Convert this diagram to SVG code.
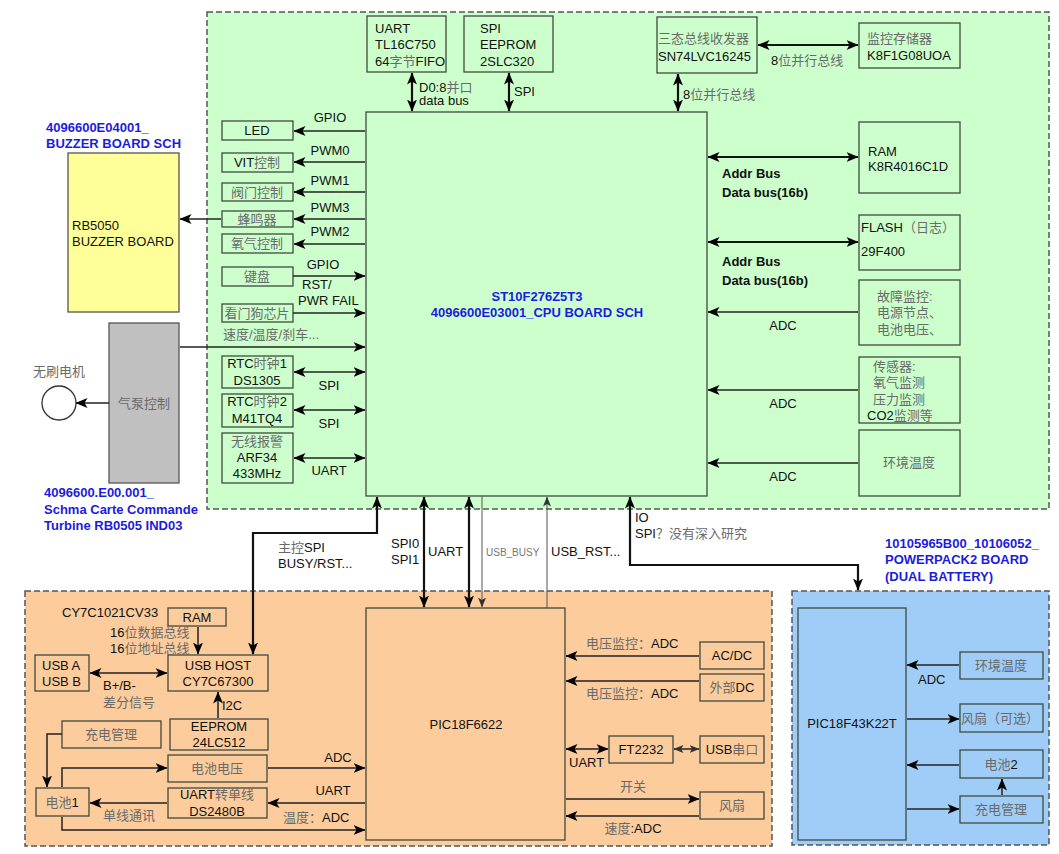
<svg xmlns="http://www.w3.org/2000/svg" width="1059" height="854" viewBox="0 0 1059 854">
<style>
text{font-family:"Liberation Sans","Noto Sans CJK SC",sans-serif;font-size:13px;fill:#111}
.c{fill:#6a6a6a}
.m{text-anchor:middle}
.b{font-weight:bold}
.bl{font-weight:bold;fill:#1c1ce0}
.s{font-size:10px;fill:#777}
.panel{stroke:#555;stroke-width:1.5;stroke-dasharray:6 3}
.bx{stroke:#3f4a3f;stroke-width:1.3}
.g{fill:#ccffcc}
.o{fill:#fccc9c}
.u{fill:#9fcdf7}
.w{fill:none;stroke:#222;stroke-width:1.5}
.k{fill:none;stroke:#111;stroke-width:2.2}
.n{fill:none;stroke:#555;stroke-width:1}
</style>
<defs>
<marker id="a" viewBox="0 0 12 10" refX="11.5" refY="5" markerWidth="12" markerHeight="10" markerUnits="userSpaceOnUse" orient="auto-start-reverse"><path d="M0,0 L12,5 L0,10 L3,5 z" fill="#000"/></marker>
<marker id="t" viewBox="0 0 10 8" refX="9.5" refY="4" markerWidth="10" markerHeight="8" markerUnits="userSpaceOnUse" orient="auto-start-reverse"><path d="M0,0 L10,4 L0,8 L2.5,4 z" fill="#333"/></marker>
</defs>

<g id="panel-cpu"><rect class="panel g" x="207" y="12" width="842" height="497"/></g>
<g id="panel-pic"><rect class="panel o" x="25" y="591" width="747" height="255"/></g>
<g id="panel-power"><rect class="panel u" x="792" y="591" width="257" height="254"/>
<text class="bl" x="885" y="548">10105965B00_10106052_</text>
<text class="bl" x="885" y="564">POWERPACK2 BOARD</text>
<text class="bl" x="885" y="581">(DUAL BATTERY)</text></g>

<g id="cpu"><rect class="bx g" x="366" y="112" width="341" height="384"/>
<text class="bl m" x="537" y="301">ST10F276Z5T3</text>
<text class="bl m" x="537" y="317">4096600E03001_CPU BOARD SCH</text></g>

<g id="uart"><rect class="bx g" x="367" y="16" width="79" height="56"/>
<text x="375" y="33">UART</text><text x="375" y="49">TL16C750</text><text x="375" y="66">64<tspan class="c">字节</tspan>FIFO</text></g>
<g id="spi-eeprom"><rect class="bx g" x="464" y="16" width="89" height="56"/>
<text x="480" y="33">SPI</text><text x="480" y="49">EEPROM</text><text x="480" y="66">2SLC320</text></g>
<g id="transceiver"><rect class="bx g" x="657" y="17" width="100" height="56"/>
<text class="c" x="658" y="43">三态总线收发器</text><text x="658" y="61">SN74LVC16245</text></g>
<g id="monitor-mem"><rect class="bx g" x="859" y="23" width="101" height="45"/>
<text class="c" x="867" y="43">监控存储器</text><text x="867" y="60">K8F1G08UOA</text></g>
<g id="ram"><rect class="bx g" x="859" y="122" width="101" height="71"/>
<text x="868" y="156">RAM</text><text x="868" y="171">K8R4016C1D</text></g>
<g id="flash"><rect class="bx g" x="859" y="215" width="101" height="55"/>
<text x="861" y="232">FLASH<tspan class="c">（日志）</tspan></text><text x="861" y="256">29F400</text></g>
<g id="fault"><rect class="bx g" x="859" y="280" width="101" height="65"/>
<text class="c" x="877" y="301">故障监控:</text><text class="c" x="877" y="317">电源节点、</text><text class="c" x="877" y="334">电池电压、</text></g>
<g id="sensor"><rect class="bx g" x="859" y="357" width="101" height="66"/>
<text class="c" x="873" y="371">传感器:</text><text class="c" x="873" y="387">氧气监测</text><text class="c" x="873" y="404">压力监测</text><text x="867" y="420">CO2<tspan class="c">监测等</tspan></text></g>
<g id="env-temp"><rect class="bx g" x="859" y="430" width="101" height="66"/>
<text class="c m" x="909" y="467">环境温度</text></g>

<g id="led"><rect class="bx g" x="222" y="121" width="71" height="19"/><text class="m" x="257" y="135">LED</text></g>
<g id="vit"><rect class="bx g" x="222" y="153" width="71" height="19"/><text class="m" x="257" y="167">VIT<tspan class="c">控制</tspan></text></g>
<g id="valve"><rect class="bx g" x="222" y="183" width="71" height="18"/><text class="c m" x="257" y="197">阀门控制</text></g>
<g id="buzzer"><rect class="bx g" x="222" y="211" width="71" height="16"/><text class="c m" x="257" y="224">蜂鸣器</text></g>
<g id="oxygen"><rect class="bx g" x="222" y="234" width="71" height="19"/><text class="c m" x="257" y="248">氧气控制</text></g>
<g id="keyboard"><rect class="bx g" x="222" y="267" width="71" height="19"/><text class="c m" x="257" y="281">键盘</text></g>
<g id="watchdog"><rect class="bx g" x="222" y="304" width="71" height="18"/><text class="c m" x="257" y="318">看门狗芯片</text></g>
<g id="rtc1"><rect class="bx g" x="222" y="356" width="71" height="32"/><text class="m" x="257" y="368">RTC<tspan class="c">时钟</tspan>1</text><text class="m" x="257" y="385">DS1305</text></g>
<g id="rtc2"><rect class="bx g" x="222" y="394" width="71" height="33"/><text class="m" x="257" y="406">RTC<tspan class="c">时钟</tspan>2</text><text class="m" x="257" y="423">M41TQ4</text></g>
<g id="wireless"><rect class="bx g" x="222" y="433" width="71" height="50"/><text class="c m" x="257" y="446">无线报警</text><text class="m" x="257" y="462">ARF34</text><text class="m" x="257" y="478">433MHz</text></g>

<g id="buzzer-board"><text class="bl" x="46" y="132">4096600E04001_</text><text class="bl" x="46" y="148">BUZZER BOARD SCH</text>
<rect x="68" y="153" width="111" height="159" fill="#ffff99" stroke="#555" stroke-width="1.3"/>
<text x="72" y="230">RB5050</text><text x="72" y="246">BUZZER BOARD</text></g>
<g id="pump"><rect x="109" y="323" width="70" height="160" fill="#c0c0c0" stroke="#555" stroke-width="1.3"/>
<text class="c m" x="144" y="408">气泵控制</text>
<text class="bl" x="44" y="497">4096600.E00.001_</text><text class="bl" x="44" y="514">Schma Carte Commande</text><text class="bl" x="44" y="530">Turbine RB0505 IND03</text></g>
<g id="motor"><circle cx="59" cy="403" r="17" fill="#fff" stroke="#333" stroke-width="1.3"/><text class="c m" x="59" y="376">无刷电机</text></g>

<g id="pic"><rect class="bx o" x="366" y="608" width="199" height="232"/><text class="m" x="466" y="729">PIC18F6622</text></g>
<g id="acdc"><rect class="bx o" x="700" y="642" width="64" height="27"/><text class="m" x="732" y="660">AC/DC</text></g>
<g id="extdc"><rect class="bx o" x="700" y="674" width="64" height="27"/><text class="m" x="732" y="692"><tspan class="c">外部</tspan>DC</text></g>
<g id="ft2232"><rect class="bx o" x="609" y="736" width="64" height="27"/><text class="m" x="641" y="754">FT2232</text></g>
<g id="usb-serial"><rect class="bx o" x="700" y="736" width="64" height="27"/><text class="m" x="732" y="754">USB<tspan class="c">串口</tspan></text></g>
<g id="fan"><rect class="bx o" x="700" y="792" width="64" height="27"/><text class="c m" x="732" y="810">风扇</text></g>
<g id="sram"><text x="62" y="617">CY7C1021CV33</text><rect class="bx o" x="168" y="608" width="58" height="18"/><text class="m" x="197" y="622">RAM</text></g>
<g id="usbab"><rect class="bx o" x="35" y="655" width="54" height="36"/><text x="42" y="670">USB A</text><text x="42" y="686">USB B</text></g>
<g id="usbhost"><rect class="bx o" x="168" y="655" width="100" height="36"/><text class="m" x="218" y="670">USB HOST</text><text class="m" x="218" y="686">CY7C67300</text></g>
<g id="eeprom"><rect class="bx o" x="170" y="719" width="98" height="31"/><text class="m" x="219" y="731">EEPROM</text><text class="m" x="219" y="747">24LC512</text></g>
<g id="charge1"><rect class="bx o" x="62" y="721" width="99" height="27"/><text class="c m" x="111" y="739">充电管理</text></g>
<g id="battv"><rect class="bx o" x="168" y="755" width="99" height="27"/><text class="c m" x="217" y="773">电池电压</text></g>
<g id="ds2480"><rect class="bx o" x="168" y="788" width="99" height="30"/><text class="m" x="217" y="799">UART<tspan class="c">转单线</tspan></text><text class="m" x="217" y="816">DS2480B</text></g>
<g id="batt1"><rect class="bx o" x="36" y="788" width="53" height="28"/><text class="m" x="62" y="807"><tspan class="c">电池</tspan>1</text></g>

<g id="pic43"><rect class="bx u" x="798" y="608" width="108" height="232"/><text class="m" x="852" y="728">PIC18F43K22T</text></g>
<g id="env2"><rect class="bx u" x="960" y="652" width="83" height="27"/><text class="c m" x="1001" y="670">环境温度</text></g>
<g id="fan2"><rect class="bx u" x="960" y="704" width="83" height="28"/><text class="c" x="961" y="723">风扇（可选）</text></g>
<g id="batt2"><rect class="bx u" x="960" y="750" width="83" height="28"/><text class="m" x="1001" y="769"><tspan class="c">电池</tspan>2</text></g>
<g id="charge2"><rect class="bx u" x="960" y="796" width="83" height="27"/><text class="c m" x="1001" y="814">充电管理</text></g>

<g id="connectors">
<path class="k" d="M412,73 V111" marker-start="url(#a)" marker-end="url(#a)"/>
<path class="k" d="M509,73 V111" marker-start="url(#a)" marker-end="url(#a)"/>
<path class="k" d="M678,74 V111" marker-start="url(#a)" marker-end="url(#a)"/>
<path class="k" d="M758,45 H858" marker-start="url(#a)" marker-end="url(#a)"/>
<path class="k" d="M708,157 H858" marker-start="url(#a)" marker-end="url(#a)"/>
<path class="k" d="M708,242 H858" marker-start="url(#a)" marker-end="url(#a)"/>
<path class="w" d="M858,312 H708" marker-end="url(#a)"/>
<path class="w" d="M858,390 H708" marker-end="url(#a)"/>
<path class="w" d="M858,463 H708" marker-end="url(#a)"/>
<path class="w" d="M365,131 H294" marker-end="url(#a)"/>
<path class="w" d="M365,162 H294" marker-end="url(#a)"/>
<path class="w" d="M365,192 H294" marker-end="url(#a)"/>
<path class="w" d="M365,219 H294" marker-end="url(#a)"/>
<path class="w" d="M365,244 H294" marker-end="url(#a)"/>
<path class="w" d="M221,219 H180" marker-end="url(#a)"/>
<path class="w" d="M293,276 H365" marker-end="url(#a)"/>
<path class="w" d="M293,313 H365" marker-end="url(#a)"/>
<path class="w" d="M180,347 H365" marker-end="url(#a)"/>
<path class="w" d="M294,372 H365" marker-start="url(#a)" marker-end="url(#a)"/>
<path class="w" d="M294,410 H365" marker-start="url(#a)" marker-end="url(#a)"/>
<path class="w" d="M294,458 H365" marker-start="url(#a)" marker-end="url(#a)"/>
<path class="w" d="M109,403 H76" marker-end="url(#a)"/>
<path class="k" d="M377,497 V533 H253 V654" marker-start="url(#a)" marker-end="url(#a)"/>
<path class="k" stroke-width="2.6" d="M424,497 V607" marker-start="url(#a)" marker-end="url(#a)"/>
<path class="k" stroke-width="2.6" d="M469,497 V607" marker-start="url(#a)" marker-end="url(#a)"/>
<path class="n" d="M482,496 V607" marker-end="url(#t)"/>
<path class="n" d="M547,608 V497" marker-end="url(#t)"/>
<path class="k" d="M630,497 V565 H858 V590" marker-start="url(#a)" marker-end="url(#a)"/>
<path class="w" d="M699,656 H566" marker-end="url(#a)"/>
<path class="w" d="M699,681 H566" marker-end="url(#a)"/>
<path class="w" d="M566,749 H608" marker-start="url(#a)" marker-end="url(#a)"/>
<path class="w" d="M674,749 H699" marker-start="url(#t)" marker-end="url(#t)"/>
<path class="w" d="M566,799 H699" marker-end="url(#a)"/>
<path class="w" d="M699,816 H566" marker-end="url(#a)"/>
<path class="w" d="M198,627 V654" marker-end="url(#a)"/>
<path class="w" d="M90,673 H167" marker-start="url(#a)" marker-end="url(#a)"/>
<path class="w" d="M218,718 V692" marker-end="url(#a)"/>
<path class="w" d="M62,734 H47 V787" marker-end="url(#a)"/>
<path class="w" d="M62,787 V768 H167" marker-end="url(#a)"/>
<path class="w" d="M268,768 H365" marker-end="url(#a)"/>
<path class="w" d="M365,803 H268" marker-end="url(#a)"/>
<path class="w" d="M167,803 H90" marker-end="url(#a)"/>
<path class="w" d="M62,817 V830 H365" marker-end="url(#a)"/>
<path class="w" d="M959,665 H907" marker-end="url(#a)"/>
<path class="w" d="M907,719 H959" marker-end="url(#a)"/>
<path class="w" d="M959,765 H907" marker-end="url(#a)"/>
<path class="w" d="M907,809 H959" marker-end="url(#a)"/>
<path class="w" d="M1002,795 V779" marker-end="url(#a)"/>

<text x="419" y="92">D0:8<tspan class="c">并口</tspan></text>
<text x="419" y="105">data bus</text>
<text x="514" y="96">SPI</text>
<text x="683" y="99">8<tspan class="c">位并行总线</tspan></text>
<text class="c" x="771" y="65"><tspan fill="#111">8</tspan>位并行总线</text>
<text class="b" x="722" y="178">Addr Bus</text><text class="b" x="722" y="197">Data bus(16b)</text>
<text class="b" x="722" y="266">Addr Bus</text><text class="b" x="722" y="285">Data bus(16b)</text>
<text class="m" x="783" y="330">ADC</text>
<text class="m" x="783" y="408">ADC</text>
<text class="m" x="783" y="481">ADC</text>
<text class="m" x="330" y="122">GPIO</text>
<text class="m" x="330" y="155">PWM0</text>
<text class="m" x="330" y="185">PWM1</text>
<text class="m" x="330" y="212">PWM3</text>
<text class="m" x="330" y="236">PWM2</text>
<text class="m" x="323" y="269">GPIO</text>
<text x="302" y="289">RST/</text>
<text x="298" y="305">PWR FAIL</text>
<text class="c" x="223" y="339">速度/温度/刹车...</text>
<text class="m" x="329" y="390">SPI</text>
<text class="m" x="329" y="428">SPI</text>
<text class="m" x="329" y="475">UART</text>
<text x="278" y="552"><tspan class="c">主控</tspan>SPI</text>
<text x="278" y="568">BUSY/RST...</text>
<text x="391" y="548">SPI0</text><text x="391" y="564">SPI1</text>
<text x="428" y="556">UART</text>
<text class="s" x="486" y="556">USB_BUSY</text>
<text x="551" y="556">USB_RST...</text>
<text x="635" y="522">IO</text>
<text x="635" y="538">SPI<tspan class="c">？没有深入研究</tspan></text>
<text x="586" y="648"><tspan class="c">电压监控：</tspan>ADC</text>
<text x="586" y="698"><tspan class="c">电压监控：</tspan>ADC</text>
<text x="569" y="767">UART</text>
<text class="c m" x="633" y="791">开关</text>
<text class="m" x="633" y="833"><tspan class="c">速度</tspan>:ADC</text>
<text class="c" x="110" y="637"><tspan fill="#111">16</tspan>位数据总线</text>
<text class="c" x="110" y="653"><tspan fill="#111">16</tspan>位地址总线</text>
<text x="103" y="690">B+/B-</text>
<text class="c" x="103" y="707">差分信号</text>
<text x="222" y="710">I2C</text>
<text class="m" x="338" y="762">ADC</text>
<text class="m" x="333" y="795">UART</text>
<text class="c" x="103" y="820">单线通讯</text>
<text x="283" y="822"><tspan class="c">温度：</tspan>ADC</text>
<text x="918" y="684">ADC</text>
</g>
</svg>
